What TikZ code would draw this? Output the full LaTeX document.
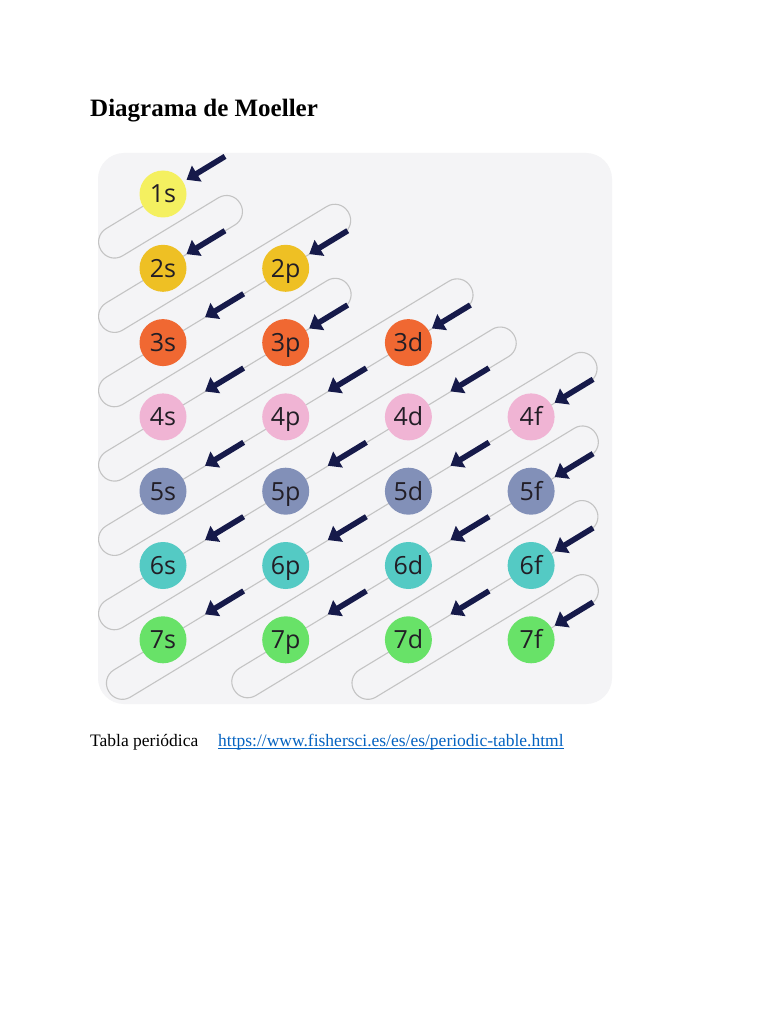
\documentclass[tikz,border=0pt]{standalone}
\usepackage{fontspec}
\setmainfont{Liberation Serif}
\newfontfamily\orbfont{Open Sans}
\usetikzlibrary{calc,arrows.meta}
\definecolor{panel}{RGB}{244,244,246}
\definecolor{rowone}{RGB}{244,240,96}
\definecolor{rowtwo}{RGB}{238,192,36}
\definecolor{rowthree}{RGB}{240,104,50}
\definecolor{rowfour}{RGB}{240,180,212}
\definecolor{rowfive}{RGB}{130,144,184}
\definecolor{rowsix}{RGB}{84,202,196}
\definecolor{rowseven}{RGB}{104,226,104}
\definecolor{navy}{RGB}{22,26,74}
\definecolor{labelgray}{RGB}{34,30,38}
\definecolor{linkblue}{RGB}{5,99,193}
\definecolor{clipgray}{RGB}{196,196,196}

\begin{document}
\begin{tikzpicture}[x=1pt,y=-1pt,
    orbital/.style={circle,minimum size=47pt,inner sep=0pt,text=labelgray,
      font=\orbfont\fontsize{25}{25}\selectfont,text height=17.8pt,text depth=0pt},
    push/.style={draw=navy,line width=5.6pt,-{Triangle[length=12pt,width=18pt]}},
    clip/.style={draw=clipgray,line width=1.1pt,rounded corners=15.5pt}]
            \useasboundingbox (0,0) rectangle (768,1024);
            \fill[white] (0,0) rectangle (768,1024);
            \node[anchor=base west,inner sep=0pt,font=\fontsize{25}{30}\selectfont\bfseries] (title) at (90,117) {Diagrama de Moeller};
            \fill[panel,rounded corners=26pt] (98,153) rectangle (612,704);
            % serpentine line, drawn along the diagonals
            \begin{scope}[x={(0.8556pt,0.5181pt)},y={(0.5181pt,-0.8556pt)}]
            \draw[clip] (38.95,250.44) -- (-43.2,250.44) -- (-43.2,282.24) -- (100,282.24)
                -- (100,314.01) -- (-81.7,314.01) -- (-81.7,345.81) -- (188,345.81)
                -- (188,377.58) -- (-120.2,377.58) -- (-120.2,409.38) -- (150,409.38)
                -- (150,441.15) -- (-158.7,441.15) -- (-158.7,472.95) -- (254,472.95)
                -- (254,504.72) -- (-197.2,504.72) -- (-197.2,536.52) -- (266,536.52)
                -- (266,568.29) -- (-235.7,568.29) -- (-235.7,600.09) -- (322,600.09)
                -- (322,631.86) -- (-265,631.86) -- (-265,663.66) -- (285,663.66)
                -- (285,695.43) -- (-157,695.43) -- (-157,727.23) -- (246,727.23)
                -- (246,759.00) -- (-55,759.00) -- (-55,790.80) -- (208,790.80)
                -- (208,822.57) -- (122.9,822.57);
            \end{scope}
            \draw (163,194) node[orbital,fill=rowone] (1s) {1s};
            \draw (163,268.3) node[orbital,fill=rowtwo] (2s) {2s};
            \draw (285.7,268.3) node[orbital,fill=rowtwo] (2p) {2p};
            \draw (163,342.6) node[orbital,fill=rowthree] (3s) {3s};
            \draw (285.7,342.6) node[orbital,fill=rowthree] (3p) {3p};
            \draw (408.4,342.6) node[orbital,fill=rowthree] (3d) {3d};
            \draw (163,416.9) node[orbital,fill=rowfour] (4s) {4s};
            \draw (285.7,416.9) node[orbital,fill=rowfour] (4p) {4p};
            \draw (408.4,416.9) node[orbital,fill=rowfour] (4d) {4d};
            \draw (531.1,416.9) node[orbital,fill=rowfour] (4f) {4f};
            \draw (163,491.2) node[orbital,fill=rowfive] (5s) {5s};
            \draw (285.7,491.2) node[orbital,fill=rowfive] (5p) {5p};
            \draw (408.4,491.2) node[orbital,fill=rowfive] (5d) {5d};
            \draw (531.1,491.2) node[orbital,fill=rowfive] (5f) {5f};
            \draw (163,565.5) node[orbital,fill=rowsix] (6s) {6s};
            \draw (285.7,565.5) node[orbital,fill=rowsix] (6p) {6p};
            \draw (408.4,565.5) node[orbital,fill=rowsix] (6d) {6d};
            \draw (531.1,565.5) node[orbital,fill=rowsix] (6f) {6f};
            \draw (163,639.8) node[orbital,fill=rowseven] (7s) {7s};
            \draw (285.7,639.8) node[orbital,fill=rowseven] (7p) {7p};
            \draw (408.4,639.8) node[orbital,fill=rowseven] (7d) {7d};
            \draw (531.1,639.8) node[orbital,fill=rowseven] (7f) {7f};
            % arrows into the first orbital of a diagonal
            \foreach \o in {1s,2s,2p,3p,3d,4f,5f,6f,7f}
                \draw[push] ($(\o)+(62,-37.6)$) -- ($(\o)+(23.5,-14.2)$);
            \draw[push] ($(4d)+(80.6,-48.9)$) -- ($(4d)+(42,-25.5)$);
            % arrows between orbitals on the same diagonal
            \foreach \a/\b in {2p/3s,3p/4s,3d/4p,4p/5s,4d/5p,5p/6s,4f/5d,5d/6p,6p/7s,5f/6d,6d/7p,6f/7d}
                \draw[push] ($(\a)!.5!(\b)+(19.3,-11.7)$) -- ($(\a)!.5!(\b)+(-19.3,11.7)$);
            \node[anchor=base west,inner sep=0pt,font=\fontsize{17.5}{20}\selectfont] (caption) at (90,746) {Tabla periódica};
            \node[anchor=base west,inner sep=0pt,text=linkblue,font=\fontsize{17.5}{20}\selectfont] (url) at (218,746) {https://www.fishersci.es/es/es/periodic-table.html};
            \draw[linkblue,line width=1.1pt] ($(url.base west)+(0,2.8)$) -- ($(url.base east)+(0,2.8)$);
\end{tikzpicture}
\end{document}
